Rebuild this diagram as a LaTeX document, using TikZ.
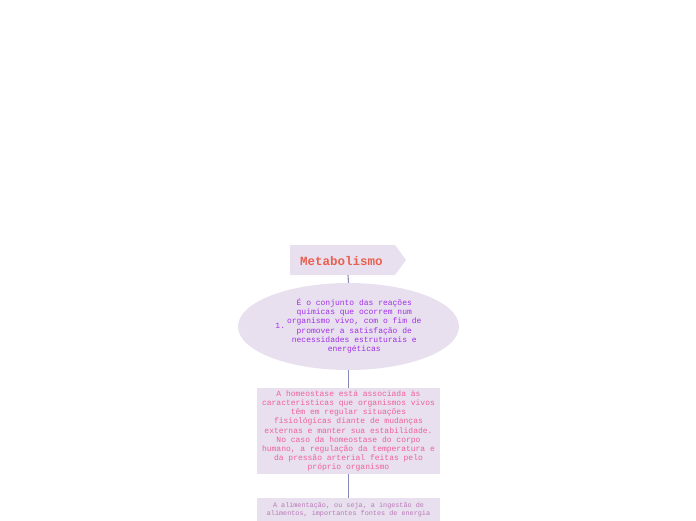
\documentclass[tikz,border=0pt]{standalone}
\usepackage{fontspec}
\setmonofont{Liberation Mono}
\usetikzlibrary{shapes.geometric,shapes.symbols}
\definecolor{boxfill}{HTML}{E8E0EE}
\definecolor{metared}{HTML}{E8604F}
\definecolor{violettext}{HTML}{A030E8}
\definecolor{pinktext}{HTML}{F0609A}
\definecolor{lilactext}{HTML}{B878B8}
\definecolor{linkcol}{HTML}{8888BB}
\tikzset{
  boxstyle/.style={fill=boxfill, draw=none, inner sep=0pt, align=center, font=\ttfamily},
  link/.style={draw=linkcol, line width=1.1pt},
}
\begin{document}
\begin{tikzpicture}[x=1pt,y=-1pt]
\useasboundingbox (0,0) rectangle (696,520);
\clip (0,0) rectangle (696,520);
% Metabolismo
\path[fill=boxfill] (290,245) -- (395,245) -- (406,260) -- (395,275) -- (290,275) -- cycle;
\node[font=\ttfamily\bfseries\fontsize{12.5}{14}\selectfont, text=metared, inner sep=0pt] (meta) at (341.5,261) {Metabolismo};
\coordinate (metabot) at (348,275);
% ellipse
\node[boxstyle, ellipse, minimum width=221pt, minimum height=87pt, text=violettext,
      font=\ttfamily\fontsize{8}{9.2}\selectfont] (ell) at (348.5,326.5)
  {\begin{tabular}{@{}c@{\hspace{2pt}}c@{}}1. &
   \begin{tabular}{@{}c@{}}É o conjunto das reações\\quimicas que ocorrem num\\organismo vivo, com o fim de\\promover a satisfação de\\necessidades estruturais e\\energéticas\end{tabular}\end{tabular}};
% rect 2
\node[boxstyle, minimum width=183pt, minimum height=86pt, text=pinktext,
      font=\ttfamily\fontsize{8}{9.1}\selectfont] (homeo) at (348.5,431)
  {A homeostase está associada às\\caracteristicas que organismos vivos\\têm em regular situações\\fisiológicas diante de mudanças\\externas e manter sua estabilidade.\\No caso da homeostase do corpo\\humano, a regulação da temperatura e\\da pressão arterial feitas pelo\\próprio organismo};
% rect 3
\path[fill=boxfill] (257,498) rectangle (440,540);
\node[font=\ttfamily\fontsize{6.8}{8}\selectfont, text=lilactext, align=center, inner sep=0pt, anchor=north] (alim) at (348.5,502)
  {A alimentação, ou seja, a ingestão de\\alimentos, importantes fontes de energia};
\coordinate (alimtop) at (348.5,498);
% connectors
\draw[link] (metabot) -- (ell.north);
\draw[link] (ell.south) -- (homeo.north);
\draw[link] (homeo.south) -- (alimtop);
\end{tikzpicture}
\end{document}
